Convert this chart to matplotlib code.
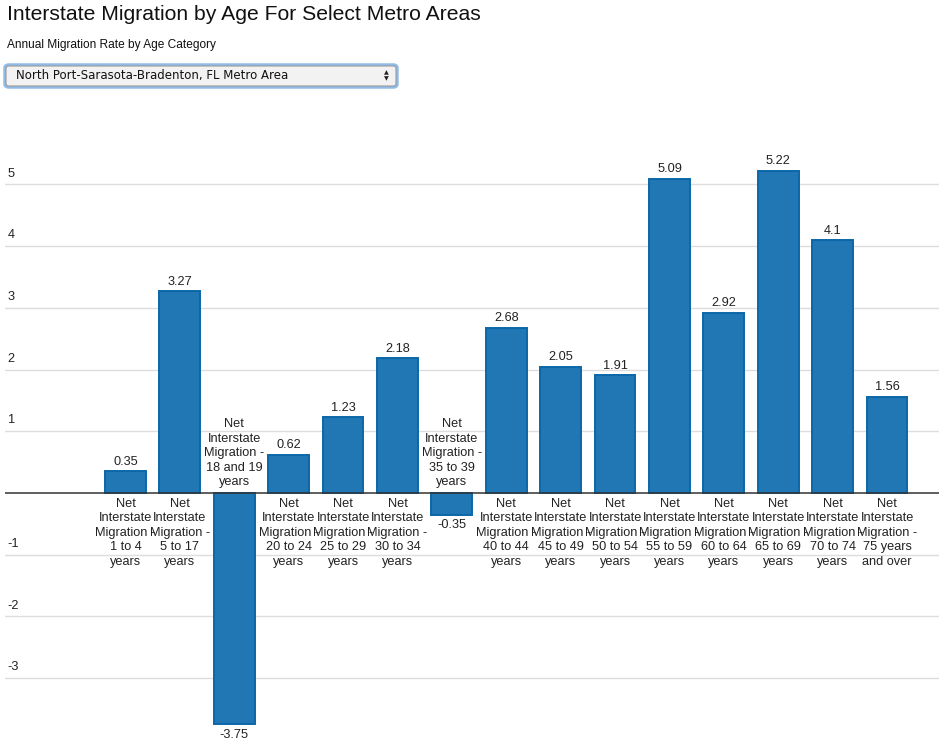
import matplotlib.pyplot as plt
from matplotlib.patches import FancyBboxPatch
from matplotlib.transforms import offset_copy, blended_transform_factory

ages = ["1 to 4\nyears", "5 to 17\nyears", "18 and 19\nyears", "20 to 24\nyears",
        "25 to 29\nyears", "30 to 34\nyears", "35 to 39\nyears", "40 to 44\nyears",
        "45 to 49\nyears", "50 to 54\nyears", "55 to 59\nyears", "60 to 64\nyears",
        "65 to 69\nyears", "70 to 74\nyears", "75 years\nand over"]
rates = [0.35, 3.27, -3.75, 0.62, 1.23, 2.18, -0.35, 2.68, 2.05, 1.91,
         5.09, 2.92, 5.22, 4.1, 1.56]
yticks = [-3, -2, -1, 1, 2, 3, 4, 5]

plt.rcParams['font.family'] = ['Liberation Sans', 'DejaVu Sans']
txt = '#222222'

fig = plt.figure(figsize=(9.39, 7.48), dpi=100)
W, H = 939, 748

fig.text(7 / W, 1 - 14 / H, "Interstate Migration by Age For Select Metro Areas",
         fontsize=15.2, color='#111111', va='center', ha='left')
fig.text(7 / W, 1 - 45 / H, "Annual Migration Rate by Age Category",
         fontsize=8.6, color='#111111', va='center', ha='left')

# dropdown box
glow = FancyBboxPatch((5 / W, 1 - 87 / H), 392 / W, 22 / H, transform=fig.transFigure,
                      boxstyle="round,pad=0,rounding_size=0.004", facecolor='none',
                      edgecolor='#8fbbe8', linewidth=2.5)
box = FancyBboxPatch((6 / W, 1 - 86 / H), 390 / W, 20 / H, transform=fig.transFigure,
                     boxstyle="round,pad=0,rounding_size=0.003", facecolor='#f2f2f2',
                     edgecolor='#9a9a9a', linewidth=0.8)
fig.add_artist(glow)
fig.add_artist(box)
fig.text(16 / W, 1 - 76 / H, "North Port-Sarasota-Bradenton, FL Metro Area",
         fontsize=8.45, family='DejaVu Sans', color='#111111', va='center', ha='left')
fig.text(386 / W, 1 - 72.5 / H, "\u25b2", fontsize=4.5, family='DejaVu Sans',
         color='#222222', ha='center', va='center')
fig.text(386 / W, 1 - 78.5 / H, "\u25bc", fontsize=4.5, family='DejaVu Sans',
         color='#222222', ha='center', va='center')

# chart axes
top_px, bot_px = 130, 745
ax = fig.add_axes([5 / W, 1 - bot_px / H, 934 / W, (bot_px - top_px) / H])
unit = 61.7
ax.set_ylim(-(bot_px - 493) / unit, (493 - top_px) / unit)
step = 54.4
ax.set_xlim((5 - 125.5) / step, (939 - 125.5) / step)
ax.axis('off')

for v in yticks:
    ax.axhline(v, color='#dddddd', linewidth=1, zorder=0)
    ax.text(0.003, v, str(v), transform=offset_copy(
        blended_transform_factory(ax.transAxes, ax.transData), fig=fig, x=0, y=3.5, units='points'),
        fontsize=9.2, color=txt, ha='left', va='bottom')
ax.axhline(0, color='#333333', linewidth=1.1, zorder=3)

x = range(len(rates))
ax.bar(x, rates, width=0.75, color='#2177b4', edgecolor='#0b67a8', linewidth=1.4, zorder=2)

for i, (v, a) in enumerate(zip(rates, ages)):
    label = "Net\nInterstate\nMigration -\n" + a
    if v >= 0:
        ax.text(i, 0, label, transform=offset_copy(ax.transData, fig=fig, y=-3.5, units='points'),
                ha='center', va='top', fontsize=9.2, color=txt, linespacing=1.28)
        ax.text(i, v, f"{v:g}", transform=offset_copy(ax.transData, fig=fig, y=2.5, units='points'),
                ha='center', va='bottom', fontsize=9.2, color=txt)
    else:
        ax.text(i, 0, label, transform=offset_copy(ax.transData, fig=fig, y=3.5, units='points'),
                ha='center', va='bottom', fontsize=9.2, color=txt, linespacing=1.28)
        ax.text(i, v, f"{v:g}", transform=offset_copy(ax.transData, fig=fig, y=-3, units='points'),
                ha='center', va='top', fontsize=9.2, color=txt)

fig.savefig('out.png', dpi=100)
